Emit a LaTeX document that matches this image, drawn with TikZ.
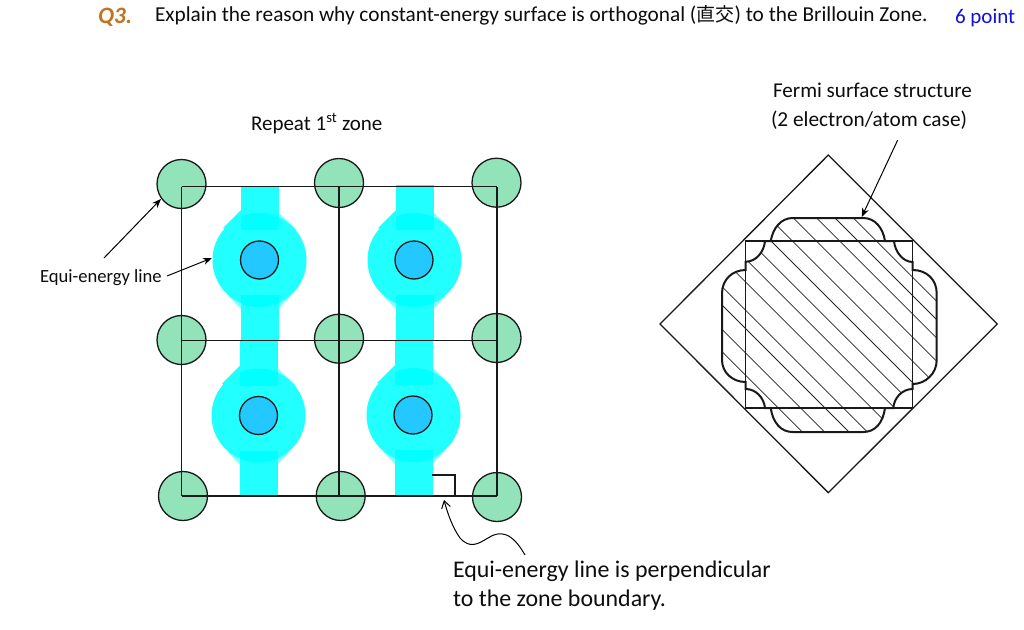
\documentclass[tikz,border=0pt]{standalone}
\usepackage{fontspec}
\setmainfont{Carlito}
\newfontfamily\cjkfont{Noto Sans CJK JP}
\usetikzlibrary{arrows.meta}
\definecolor{qorange}{HTML}{C0741F}
\definecolor{ptblue}{HTML}{1010D8}
\definecolor{atomgreen}{HTML}{92E3B9}
\definecolor{atomblue}{HTML}{22C8FF}
\definecolor{bandcyan}{HTML}{22FFFF}
\definecolor{overlapcyan}{HTML}{00FFFF}
\definecolor{flarecyan}{HTML}{80FFFF}
\tikzset{
  txt/.style={inner sep=0pt,outer sep=0pt,anchor=base west,text=black!95},
  band/.style={fill=bandcyan,draw=none},
  overlap/.style={fill=overlapcyan,draw=none},
  flare/.style={fill=bandcyan,draw=none},
  flarelight/.style={fill=flarecyan,draw=none},
  zone/.style={draw=black!90,line width=1.6pt},
  corneratom/.style={circle,draw=black!90,line width=1.3pt,fill=atomgreen,minimum size=49pt,inner sep=0pt},
  coreatom/.style={circle,draw=black!90,line width=1.3pt,fill=atomblue,minimum size=38pt,inner sep=0pt},
  bz/.style={draw=black!90,line width=1.3pt},
  fermi/.style={draw=black!90,line width=2pt},
  hatchline/.style={draw=black!85,line width=.8pt},
  lead/.style={draw=black,line width=1pt,-{Stealth[length=9pt,width=7pt]}},
  leadopen/.style={draw=black,line width=1pt,-{Straight Barb[length=7pt,width=9pt]}}
}
\newcommand{\cyanlobe}[4]{%
  \fill[flarelight] (#1+19.5,#2-47) -- (#1+37.5,#2-30) -- (#1+19.5,#2-25) -- cycle;
  \fill[flarelight] (#1-18.5,#2+49) -- (#1-31,#2+36) -- (#1-18.5,#2+30) -- cycle;
  \fill[flarelight] (#1+19,#2+49) -- (#1+31,#2+36) -- (#1+19,#2+30) -- cycle;
  \fill[flare] (#1-18.5,#2-50) -- (#1-36.5,#2-32) -- (#1-18.5,#2-25) -- cycle;
  \fill[band] (#1,#2) circle (47);
  \fill[band] (#1-18.5,#3) rectangle (#1+19.5,#2-30);
  \fill[band] (#1-19,#2+35) rectangle (#1+19,#4);
  \begin{scope}
    \clip (#1,#2) circle (47);
    \fill[overlap] (#1-18.5,#3) rectangle (#1+19.5,#2-30);
    \fill[overlap] (#1-19,#2+35) rectangle (#1+19,#4);
  \end{scope}
}
\begin{document}
\begin{tikzpicture}[x=1pt,y=-1pt]
\useasboundingbox (0,0) rectangle (1024,629);
\fill[white] (0,0) rectangle (1024,629);
% headings
\node[txt,text=qorange,font=\fontsize{23.5}{24}\selectfont\bfseries\itshape] (q) at (98,23) {Q3.};
\node[txt,font=\fontsize{21.3}{24}\selectfont] (title) at (155,21) {Explain the reason why constant-energy surface is orthogonal ({\cjkfont\fontsize{19}{24}\selectfont 直交}) to the Brillouin Zone.};
\node[txt,text=ptblue,font=\fontsize{21}{24}\selectfont] (pts) at (955,23.5) {6 point};
\node[txt,font=\fontsize{21}{24}\selectfont] (repeat) at (251,130) {Repeat 1\textsuperscript{st} zone};
\node[txt,font=\fontsize{21.1}{24}\selectfont] (fs1) at (773,97) {Fermi surface structure};
\node[txt,font=\fontsize{21.3}{24}\selectfont] (fs2) at (771,126) {(2 electron/atom case)};
\node[txt,font=\fontsize{18.6}{20}\selectfont] (eq) at (40,282) {Equi-energy line};
\node[txt,font=\fontsize{23.9}{28}\selectfont] (p1) at (453,577) {Equi-energy line is perpendicular};
\node[txt,font=\fontsize{23.9}{28}\selectfont] (p2) at (453,606) {to the zone boundary.};
% cyan regions
\cyanlobe{259.5}{260}{186}{340}
\cyanlobe{414.5}{260}{185}{340}
\cyanlobe{258.5}{415.5}{340}{495}
\cyanlobe{413.5}{415}{340}{495}
% atoms
\node[corneratom] (a11) at (181.5,184) {};
\node[corneratom] (a12) at (339,183) {};
\node[corneratom] (a13) at (496.5,182.7) {};
\node[corneratom] (a21) at (181.5,340) {};
\node[corneratom] (a22) at (339,338.7) {};
\node[corneratom] (a23) at (496.5,338) {};
\node[corneratom] (a31) at (183,496) {};
\node[corneratom] (a32) at (340.7,496) {};
\node[corneratom] (a33) at (497,497) {};
\node[coreatom] (b11) at (259.5,260) {};
\node[coreatom] (b12) at (414,260) {};
\node[coreatom] (b21) at (258.5,415.5) {};
\node[coreatom] (b22) at (413,415) {};
% zone grid
\draw[zone] (181.5,186.5) -- (497,186.5);
\draw[zone] (181.5,340.5) -- (497,340.5);
\draw[zone] (181.5,496) -- (497,496);
\draw[zone] (181.5,186.5) -- (181.5,496);
\draw[zone] (339,186.5) -- (339,496);
\draw[zone] (497,186.5) -- (497,496);
% right-angle mark
\draw[zone] (432.3,475) -- (454.7,475) -- (454.7,496);
% left arrows
\coordinate (e1s) at (104,258);
\coordinate (e1t) at (161,199);
\coordinate (e2s) at (167,276);
\coordinate (e2t) at (212,258);
\draw[lead] (e1s) -- (e1t);
\draw[lead] (e2s) -- (e2t);
\coordinate (w1) at (525,555);
\coordinate (w2) at (444,500);
\draw[leadopen] (w1) .. controls (512,532) and (500,530) .. (488,538) .. controls (478,544) and (470,549) .. (460,538) .. controls (453,528) and (448,515) .. (w2);
% Fermi figure
\draw[bz] (828.3,155) -- (997.3,324) -- (828.3,492.7) -- (660,324) -- cycle;
\def\fermipath{(770.7,241) .. controls (773,228) and (781,218) .. (792.7,218) -- (863.3,218) .. controls (875,218) and (883,228) .. (885,241)
  -- (894,241) .. controls (895,252) and (903,262) .. (912.7,262) -- (912.7,270) .. controls (927,270) and (936.7,280) .. (936.7,293.3)
  -- (936.7,360) .. controls (936.7,374) and (925,384) .. (912.7,384) -- (912.7,389) .. controls (902,389) and (894,398) .. (893.3,408)
  -- (885,408) .. controls (883,423) and (875,432) .. (863.3,432) -- (792.7,432) .. controls (781,432) and (773,423) .. (770.7,408)
  -- (765,408) .. controls (764,398) and (756,389) .. (745.7,389) -- (745.7,382) .. controls (732,382) and (722,372) .. (722,360)
  -- (722,293.3) .. controls (722,280) and (732,270) .. (745.7,270) -- (745.7,261.7) .. controls (756,261.7) and (764,252) .. (765,241) -- cycle}
\begin{scope}
\clip \fermipath;
\foreach \c in {376,321,266,196,124,60,-5,-70,-139,-224,-279,-352,-419}{
  \pgfmathsetmacro{\k}{510+\c/3}
  \draw[hatchline] (\k+200,200) -- (\k+460,460);
}
\end{scope}
\draw[fermi] \fermipath;
\draw[bz] (745.7,241) rectangle (912.7,408);
\coordinate (f1) at (897.7,140);
\coordinate (f2) at (861.7,217);
\draw[lead] (f1) -- (f2);
\end{tikzpicture}
\end{document}
